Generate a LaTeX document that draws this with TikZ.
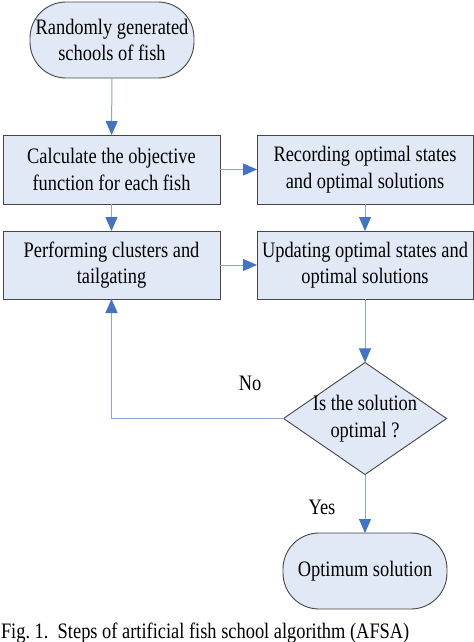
\documentclass[tikz,border=0pt]{standalone}
\usepackage{fontspec}
\usepackage{graphicx}
\setmainfont{Liberation Serif}
\usetikzlibrary{shapes.geometric,arrows.meta}
\definecolor{boxfill}{RGB}{226,233,246}
\definecolor{boxdraw}{RGB}{70,70,70}
\definecolor{linec}{RGB}{140,166,204}
\definecolor{tipc}{RGB}{68,114,196}
\newcommand{\stl}[1]{\scalebox{1}[1.2]{#1}}
\begin{document}
\begin{tikzpicture}[x=1bp,y=-1bp,
  every node/.style={font=\fontsize{18.4bp}{26.5bp}\selectfont, inner sep=0pt, outer sep=0pt},
  procbox/.style={draw=boxdraw, fill=boxfill, line width=0.9bp, minimum width=217bp, minimum height=69bp, align=center},
  termbox/.style={draw=boxdraw, fill=boxfill, line width=0.9bp, rounded corners=36bp, minimum width=164bp, minimum height=76bp, align=center},
  decbox/.style={draw=boxdraw, fill=boxfill, line width=0.9bp, diamond, aspect=1.45, inner xsep=-5bp, inner ysep=0pt, minimum width=163bp, minimum height=112bp, align=center},
  conn/.style={draw=linec, line width=1bp, -{Triangle[length=14bp,width=12bp,color=tipc]}},
  lbl/.style={font=\fontsize{18.4bp}{22bp}\selectfont}]
\useasboundingbox (0,0) rectangle (474,642);
\node[termbox] (start) at (112,40) {\stl{Randomly generated}\\\stl{schools of fish}};
\node[procbox] (calc) at (111.5,169.5) {\stl{Calculate the objective}\\\stl{function for each fish}};
\node[procbox, minimum width=216bp] (rec) at (365,169.5) {\stl{Recording optimal states}\\\stl{and optimal solutions}};
\node[procbox, minimum height=68bp] (perf) at (111.5,265) {\stl{Performing clusters and}\\\stl{tailgating}};
\node[procbox, minimum width=216bp, minimum height=68bp] (upd) at (365,265) {\stl{Updating optimal states and}\\\stl{optimal solutions}};
\node[decbox] (dec) at (365,418.5) {\stl{Is the solution}\\\stl{optimal ?}};
\node[termbox] (end) at (365,571) {\stl{Optimum solution}};
\node[lbl] (no) at (250,383) {\stl{No}};
\node[lbl] (yes) at (322,507) {\stl{Yes}};
\node[anchor=west] (cap) at (1,633) {\stl{Fig.~1.\ \ Steps of artificial fish school algorithm (AFSA)}};
\coordinate (corner) at (perf.south |- dec.west);
\draw[conn] (start) -- (calc);
\draw[conn] (calc) -- (perf);
\draw[conn] (calc) -- (rec);
\draw[conn] (perf) -- (upd);
\draw[conn] (rec) -- (upd);
\draw[conn] (upd) -- (dec);
\draw[conn] (dec) -- (end);
\draw[conn] (dec.west) -- (corner) -- (perf.south);
\end{tikzpicture}
\end{document}
